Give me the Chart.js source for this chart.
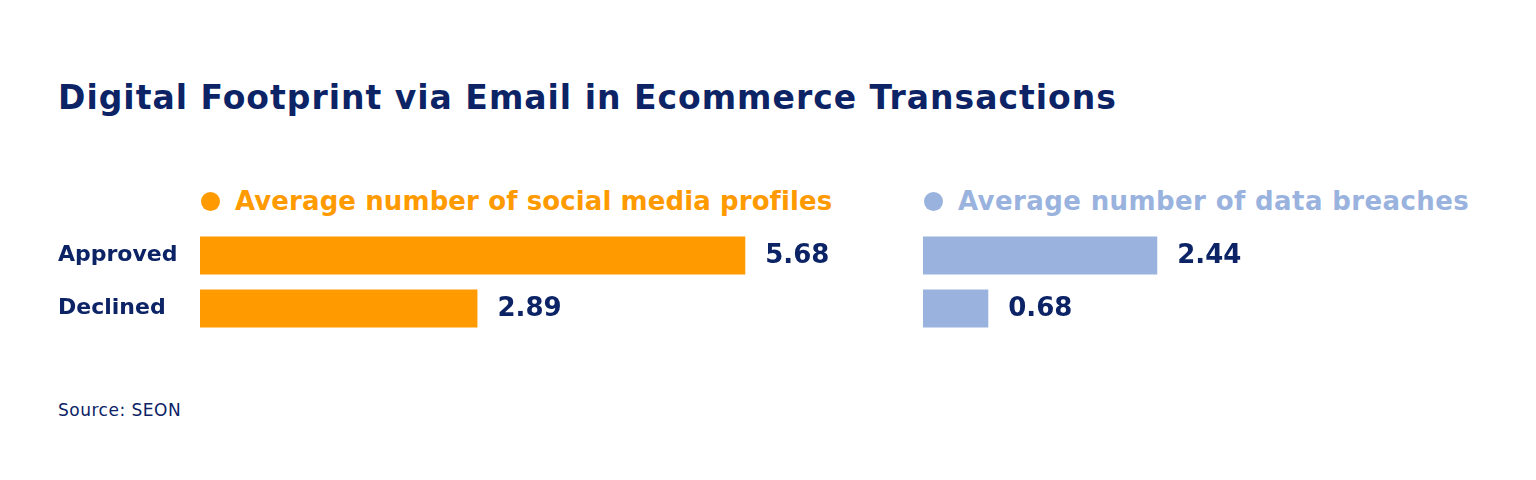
<!DOCTYPE html>
<html>
<head>
<meta charset="utf-8">
<script src="https://cdn.jsdelivr.net/npm/chart.js@4/dist/chart.umd.min.js"></script>
<style>
  html, body { margin:0; padding:0; background:#ffffff; }
  body { width:1536px; height:480px; position:relative; overflow:hidden; font-family: "DejaVu Sans", sans-serif; }
  #title { position:absolute; left:58px; top:78px; font-size:33px; font-weight:700; color:#0c2366; white-space:nowrap; letter-spacing:1px; }
  .legend { position:absolute; top:186px; font-size:26px; font-weight:700; white-space:nowrap; display:flex; align-items:center; }
  .legend .dot { width:19px; height:19px; border-radius:50%; display:inline-block; margin-right:15px; }
  #source { position:absolute; left:58px; top:400px; font-size:17px; color:#0c2366; white-space:nowrap; letter-spacing:0.5px; }
  .wrap { position:absolute; }
</style>
</head>
<body>
<div id="title">Digital Footprint via Email in Ecommerce Transactions</div>
<div class="legend" id="leg1" style="left:201px;color:#ff9a00;letter-spacing:0.1px;"><span class="dot" style="background:#ff9a00"></span><span id="leg1t"></span></div>
<div class="legend" id="leg2" style="left:924px;color:#9ab3de;letter-spacing:0.4px;"><span class="dot" style="background:#9ab3de"></span><span id="leg2t"></span></div>
<div class="wrap" style="left:0px;top:229px;width:872px;height:106px;"><canvas id="c1"></canvas></div>
<div class="wrap" style="left:923px;top:229px;width:613px;height:106px;"><canvas id="c2"></canvas></div>
<div id="source">Source: SEON</div>
<script>
const categories = ["Approved", "Declined"];
const socialProfiles = [5.68, 2.89];
const dataBreaches = [2.44, 0.68];
const seriesNames = ["Average number of social media profiles", "Average number of data breaches"];

document.getElementById('leg1t').textContent = seriesNames[0];
document.getElementById('leg2t').textContent = seriesNames[1];

const NAVY = '#0c2366';
const FONT = '"DejaVu Sans", sans-serif';

const valueLabels = {
  id: 'valueLabels',
  afterDatasetsDraw(chart) {
    const ctx = chart.ctx;
    ctx.save();
    ctx.font = '700 26px ' + FONT;
    ctx.fillStyle = NAVY;
    ctx.textAlign = 'left';
    ctx.textBaseline = 'middle';
    chart.getDatasetMeta(0).data.forEach((bar, i) => {
      const v = chart.data.datasets[0].data[i];
      ctx.fillText(v.toFixed(2), bar.x + 20, bar.y + 1);
    });
    ctx.restore();
  }
};

function makeChart(id, values, color, showY, xmax) {
  return new Chart(document.getElementById(id), {
    type: 'bar',
    data: {
      labels: categories,
      datasets: [{ data: values, backgroundColor: color, borderWidth: 0, barPercentage: 0.717, categoryPercentage: 1.0 }]
    },
    options: {
      indexAxis: 'y',
      responsive: true,
      maintainAspectRatio: false,
      animation: false,
      layout: { padding: { left: showY ? 58 : 0, right: 0, top: 0, bottom: 0 } },
      plugins: { legend: { display: false }, tooltip: { enabled: false } },
      scales: {
        x: { display: false, min: 0, max: xmax, grid: { display: false } },
        y: {
          display: showY,
          grid: { display: false },
          border: { display: false },
          ticks: { color: NAVY, font: { family: FONT, size: 22, weight: '700' }, crossAlign: 'far', padding: 0 },
          afterFit(scale) {
            if (showY) {
              scale.width = 142;
              scale.paddingTop = 0;
              scale.paddingBottom = 0;
            }
          }
        }
      }
    },
    plugins: [valueLabels]
  });
}

// chart 1: area from x=200 to 872 => 672px for 7 units (96 px/unit)
const chart1 = makeChart('c1', socialProfiles, '#ff9a00', true, 7);
// chart 2: area 613px wide => 613/96 units
const chart2 = makeChart('c2', dataBreaches, '#9ab3de', false, 613 / 96);
</script>
</body>
</html>
